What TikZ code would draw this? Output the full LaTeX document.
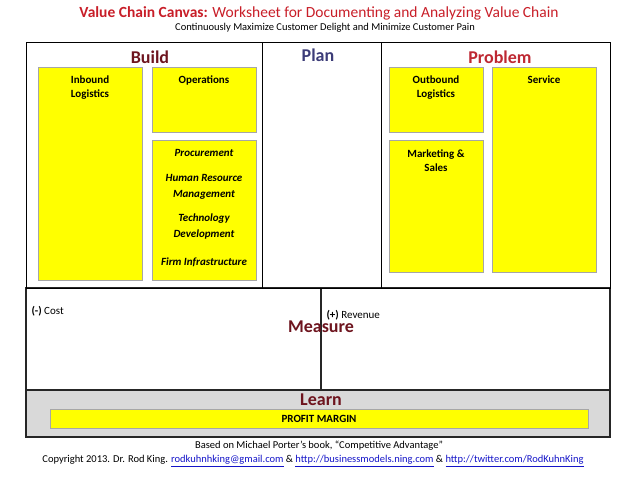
\documentclass[tikz,border=0pt]{standalone}
\usepackage{fontspec}
\setmainfont{Carlito}
\usetikzlibrary{shadows}
\definecolor{ttl}{RGB}{200,30,40}
\definecolor{yel}{RGB}{255,255,0}
\definecolor{hd}{RGB}{110,20,30}
\definecolor{pl}{RGB}{60,60,120}
\definecolor{pr}{RGB}{190,40,50}
\definecolor{lnk}{RGB}{20,20,200}
\tikzset{
 yb/.style={draw=black!35,fill=yel,drop shadow={opacity=0.4,shadow xshift=1pt,shadow yshift=-1pt}},
 bt/.style={font=\fontsize{11}{14}\selectfont\bfseries,align=center,anchor=north},
 it/.style={font=\fontsize{11}{16}\selectfont\bfseries\itshape,align=center,anchor=north},
 hdg/.style={font=\fontsize{18}{20}\selectfont\bfseries},
 frm/.style={draw=black!85,line width=1.2pt}
}
\begin{document}
\begin{tikzpicture}[x=1pt,y=-1pt]
\useasboundingbox (0,0) rectangle (638,479);
\node (t) at (319,13) {\fontsize{15.5}{18}\selectfont\color{ttl}\textbf{Value Chain Canvas:} Worksheet for Documenting and Analyzing Value Chain};
\node (st) at (325,28) {\fontsize{10.5}{12}\selectfont Continuously Maximize Customer Delight and Minimize Customer Pain};
% frames
\draw[fill=black!15,frm] (26,390) rectangle (610,437);
\draw[frm] (26,288) rectangle (610,390);
\draw[frm] (321,288) -- (321,390);
\draw[draw=black,line width=0.6pt] (26,42) rectangle (610,288);
\draw[line width=0.6pt] (262,42) -- (262,288) (381,42) -- (381,288);
% boxes
\draw[yb] (38,67) rectangle (142,280);
\draw[yb] (152,67) rectangle (256,132);
\draw[yb] (152,140) rectangle (256,280);
\draw[yb] (389,67) rectangle (483,132);
\draw[yb] (389,140) rectangle (483,272);
\draw[yb] (492,67) rectangle (596,272);
\draw[yb] (50,409) rectangle (588,428);
\node[bt] (ib) at (90,72) {Inbound\\Logistics};
\node[bt] (op) at (204,72) {Operations};
\node[it] (pc) at (204,146) {Procurement\\[9pt]Human Resource\\Management\\[8pt]Technology\\Development\\[12pt]Firm Infrastructure};
\node[bt] (ob) at (436,72) {Outbound\\Logistics};
\node[bt] (mk) at (436,146) {Marketing \&\\Sales};
\node[bt] (sv) at (544,72) {Service};
\node (pm) at (319,418.5) {\fontsize{11}{13}\selectfont\bfseries PROFIT MARGIN};
% headings
\node[hdg,text=hd] (b) at (150,57) {Build};
\node[hdg,text=pl] (p) at (318,55) {Plan};
\node[hdg,text=pr] (pb) at (500,57) {Problem};
\node[hdg,text=hd] (me) at (321,327) {Measure};
\node[hdg,text=hd] (le) at (321,400) {Learn};
\node[anchor=west] (c) at (28,311) {\fontsize{11}{13}\selectfont\textbf{(-)} Cost};
\node[anchor=west] (r) at (323,315) {\fontsize{11}{13}\selectfont\textbf{(+)} Revenue};
% footer
\node (f1) at (319,446) {\fontsize{10.5}{12}\selectfont Based on Michael Porter's book, “Competitive Advantage”};
\node (f2) at (313,461) {\fontsize{10.5}{12}\selectfont Copyright 2013. Dr. Rod King. \textcolor{lnk}{\underline{rodkuhnhking@gmail.com}} \& \textcolor{lnk}{\underline{http://businessmodels.ning.com}} \& \textcolor{lnk}{\underline{http://twitter.com/RodKuhnKing}}};
\end{tikzpicture}
\end{document}
